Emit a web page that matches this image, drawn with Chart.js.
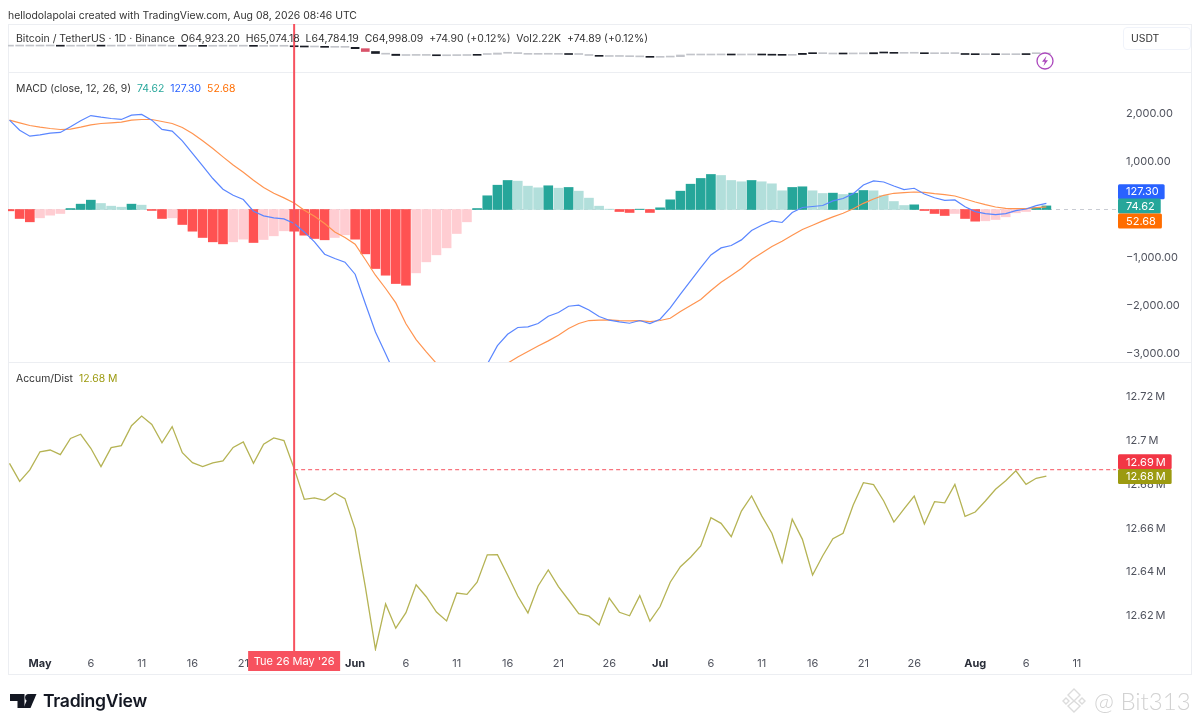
<!DOCTYPE html>
<html>
<head>
<meta charset="utf-8">
<title>BTC MACD Accum/Dist</title>
<script src="https://cdn.jsdelivr.net/npm/chart.js@4"></script>
<style>
  html, body { margin: 0; padding: 0; background: #fff; overflow: hidden; }
  body { width: 1200px; height: 727px; position: relative; font-family: Inter, sans-serif; color: #131722; }
  canvas { position: absolute; left: 0; top: 0; }
  .txt { position: absolute; font-size: 10.4px; line-height: 14px; white-space: pre; }
  .txt span { margin-left: 6px; }
</style>
</head>
<body>
<canvas id="myChart" width="1200" height="727"></canvas>

<div class="txt" style="left:8px;top:9px;color:#333">hellodolapolai created with TradingView.com, Aug 08, 2026 08:46 UTC</div>
<div class="txt" style="left:16px;top:32px;color:#333;font-size:10.48px">Bitcoin / TetherUS · 1D · Binance  O64,923.20  H65,074.18  L64,784.19  C64,998.09  +74.90 (+0.12%)  Vol2.22K  +74.89 (+0.12%)</div>
<div style="position:absolute;left:1123px;top:27px;width:66px;height:21px;border:1px solid #f0f3fa;border-radius:4px"></div>
<div class="txt" style="left:1131px;top:32px;color:#333">USDT</div>
<div class="txt" style="left:16px;top:82px;color:#333">MACD (close, 12, 26, 9)<span style="color:#26a69a">74.62</span><span style="color:#2962ff">127.30</span><span style="color:#ff6d00">52.68</span></div>
<div class="txt" style="left:16px;top:372px;color:#333">Accum/Dist<span style="color:#9c9a10">12.68 M</span></div>

<svg style="position:absolute;left:1035px;top:51px" width="20" height="20" viewBox="0 0 20 20">
  <circle cx="10" cy="10" r="8" fill="#fff" stroke="#ab47bc" stroke-width="1.3"/>
  <path d="M11.5 5 L7 10.8 H9.8 L8.5 15 L13 9.2 H10.2 Z" fill="#ab47bc"/>
</svg>

<svg style="position:absolute;left:10px;top:694px" width="27" height="14" viewBox="0 0 27 14">
  <path d="M0 0 H14.5 V14 H7.5 V7 H0 Z" fill="#131722"/>
  <circle cx="18.6" cy="3.5" r="3.5" fill="#131722"/>
  <path d="M26.5 0 L20.5 14 H13.5 L19.5 0 Z" fill="#131722"/>
</svg>
<div style="position:absolute;left:43px;top:689px;font-size:17.6px;line-height:24px;font-weight:600;letter-spacing:-0.3px;color:#131722">TradingView</div>

<svg style="position:absolute;left:1060px;top:687px" width="28" height="28" viewBox="0 0 28 28" fill="none" stroke="#dcdcdc" stroke-width="1.4">
  <path d="M14 2 L20 8 L14 14 L8 8 Z"/>
  <path d="M6 11 L9 14 L6 17 L3 14 Z"/>
  <path d="M22 11 L25 14 L22 17 L19 14 Z"/>
  <path d="M8 19 L14 25 L20 19 L14 14 Z"/>
</svg>
<div style="position:absolute;left:1094px;top:686px;font-family:Lato,sans-serif;font-size:24px;line-height:30px;font-weight:300;color:#d2d2d2">@ Bit313</div>

<script>
// days counted from May 1, first bar is Apr 28, last is Aug 8
const days = Array.from({ length: 103 }, (_, i) => i - 3);

const tickDays = [0, 5, 10, 15, 20, 25, 31, 36, 41, 46, 51, 56, 61, 66, 71, 76, 81, 86, 92, 97, 102];
const tickLabels = ['May', '6', '11', '16', '21', '26', 'Jun', '6', '11', '16', '21', '26', 'Jul', '6', '11', '16', '21', '26', 'Aug', '6', '11'];
const monthLabels = ['May', 'Jun', 'Jul', 'Aug'];

const macdTicks = [2000, 1000, -1000, -2000, -3000];
const adTicks = [12.72, 12.7, 12.68, 12.66, 12.64, 12.62];

const candleFirstOpen = 76800;
const candleCloses = [
  76900, 77000, 76900,
  77100, 77000, 76700, 76800, 76900, 77000, 76800, 76900, 77000, 77100,
  77000, 77100, 77000, 76700, 76800, 76500, 76600, 76700, 76800, 76700,
  76800, 76500, 76600, 76700, 76600, 75900, 75500, 75600, 75000, 75200,
  75000, 73000, 68750, 65750, 64700, 62750, 63000, 62900, 62900, 62400,
  62600, 62750, 63000, 64250, 64500, 66500, 66100, 65600, 64500, 64600,
  64600, 64500, 64250, 64300, 62750, 61500, 61300, 61400, 61000, 60700,
  60000, 60400, 61000, 63500, 63600, 63500, 63600, 63700, 63500, 63600,
  63600, 63500, 63200, 63000, 64250, 66000, 65500, 65600, 65000, 65100,
  65200, 65300, 67000, 66500, 66000, 66100, 66200, 65450, 65500, 65600,
  65700, 64250, 64000, 64100, 63950, 64000, 64100, 65450, 65500, 64998.09
];
const darkCandleDays = [2, 6, 14, 16, 21, 25, 26, 28, 31, 33, 35, 39, 43, 52, 55, 60, 68, 71, 72, 73, 75, 76, 79, 82, 83, 84, 87, 91, 92, 94, 97];

const macdHist = [
  -28, -187, -256,
  -173, -118, -83, 20, 111, 194, 125, 69, 48, 111,
  90, -20, -187, -173, -312, -451, -582, -672, -714, -672,
  -617, -686, -624, -547, -443, -451, -534, -603, -630, -582,
  -526, -617, -922, -1227, -1366, -1539, -1574, -1317, -1088, -942,
  -797, -499, -256, 20, 285, 505, 603, 589, 485, 451,
  493, 443, 458, 381, 236, 69, 7, -42, -62, 7,
  -62, 35, 201, 381, 526, 645, 728, 707, 603, 576,
  603, 576, 534, 389, 458, 472, 389, 333, 340, 312,
  340, 395, 389, 291, 166, 83, 97, -21, -83, -125,
  -83, -187, -243, -235, -208, -152, -69, -42, 35, 74.62
];

const macdLine = [
  1857, 1649, 1524,
  1552, 1586, 1601, 1718, 1843, 1953, 1920, 1892, 1872, 1961,
  1975, 1857, 1664, 1628, 1427, 1164, 907, 644, 422, 297,
  208, -35, -133, -175, -195, -291, -466, -674, -929, -1019,
  -1096, -1345, -1954, -2545, -2997, -3460, -3950, -4022, -4049, -4140,
  -4200, -4000, -3800, -3560, -3215, -2830, -2593, -2453, -2440, -2371,
  -2218, -2142, -2011, -1989, -2088, -2225, -2301, -2337, -2364, -2308,
  -2370, -2281, -2046, -1761, -1484, -1206, -944, -798, -749, -632,
  -437, -326, -237, -270, -62, 42, 62, 83, 179, 229,
  330, 509, 593, 572, 489, 412, 441, 322, 245, 191,
  198, 58, -45, -87, -108, -87, -25, 10, 79, 127.30
];

const signalLine = [
  1857, 1800, 1746,
  1711, 1684, 1663, 1669, 1711, 1759, 1788, 1800, 1815, 1857,
  1871, 1871, 1829, 1788, 1705, 1580, 1427, 1268, 1094, 927,
  775, 609, 457, 339, 241, 137, -15, -139, -292, -466,
  -583, -721, -1040, -1366, -1642, -1942, -2376, -2705, -2961, -3200,
  -3400, -3500, -3550, -3580, -3500, -3335, -3196, -3064, -2952, -2836,
  -2731, -2613, -2475, -2370, -2308, -2301, -2295, -2308, -2316, -2308,
  -2329, -2308, -2260, -2121, -1996, -1871, -1684, -1511, -1372, -1227,
  -1040, -902, -769, -659, -534, -416, -326, -237, -154, -77,
  15, 128, 218, 295, 337, 350, 364, 357, 329, 308,
  281, 218, 156, 100, 52, 25, 17, 17, 37, 52.68
];

const accumDist = [
  12.6897, 12.6815, 12.6867,
  12.6950, 12.6958, 12.6937, 12.7011, 12.7030, 12.6966, 12.6882, 12.6969, 12.6978, 12.7069,
  12.7113, 12.7075, 12.6991, 12.7065, 12.6946, 12.6900, 12.6882, 12.6899, 12.6908, 12.6970,
  12.6995, 12.6897, 12.6985, 12.7013, 12.7001, 12.6874, 12.6733, 12.6739, 12.6728, 12.6762,
  12.6736, 12.6597, 12.6334, 12.6048, 12.6255, 12.6144, 12.6215, 12.6342, 12.6288, 12.6218,
  12.6177, 12.6305, 12.6299, 12.6354, 12.6479, 12.6480, 12.6387, 12.6291, 12.6214, 12.6337,
  12.6410, 12.6334, 12.6273, 12.6211, 12.6199, 12.6159, 12.6282, 12.6217, 12.6201, 12.6293,
  12.6176, 12.6243, 12.6354, 12.6425, 12.6468, 12.6520, 12.6649, 12.6623, 12.6562, 12.6679,
  12.6748, 12.6657, 12.6578, 12.6445, 12.6642, 12.6550, 12.6387, 12.6475, 12.6553, 12.6578,
  12.6707, 12.6809, 12.6800, 12.6725, 12.6629, 12.6689, 12.6748, 12.6620, 12.6722, 12.6717,
  12.6801, 12.6655, 12.6675, 12.6725, 12.6779, 12.6818, 12.6863, 12.6801, 12.6829, 12.6839
];

const crossDay = 25;
const crossLabel = "Tue 26 May '26";
const crossAd = 12.6868;

const macdTags = [
  { value: 127.30, text: '127.30', color: '#2962ff', shift: -11.7 },
  { value: 74.62, text: '74.62', color: '#26a69a', shift: 0 },
  { value: 52.68, text: '52.68', color: '#ff6d00', shift: 14 }
];
const adTags = [
  { value: 12.6868, text: '12.69\u2009M', color: '#f23645', shift: -8 },
  { value: 12.6839, text: '12.68\u2009M', color: '#9c9a10', shift: 0.5 }
];

const candleOpens = [candleFirstOpen, ...candleCloses.slice(0, -1)];
const candles = candleCloses.map((c, i) => [candleOpens[i], c]);

const FONT = 'Inter, sans-serif';
const AXIS_SIZE = 11;

function isMonthTick(ctx) {
  return !!ctx.tick && monthLabels.includes(ctx.tick.label);
}

function histColor(ctx) {
  const i = ctx.dataIndex;
  const v = macdHist[i];
  const prev = i > 0 ? macdHist[i - 1] : 0;
  if (v >= 0) return v >= prev ? '#26a69a' : '#b2dfdb';
  return v <= prev ? '#ff5252' : '#ffcdd2';
}

function candleColor(ctx) {
  const i = ctx.dataIndex;
  if (candleOpens[i] - candleCloses[i] >= 3000 && days[i] === 32) return '#d9536a';
  return darkCandleDays.includes(days[i]) ? '#1a1d26' : '#c2c4ca';
}

function drawTag(ctx, y, t, left) {
  ctx.font = AXIS_SIZE + 'px ' + FONT;
  const w = ctx.measureText(t.text).width + 14;
  ctx.fillStyle = t.color;
  ctx.beginPath();
  ctx.roundRect(left, y - 7.5, w, 15, 1.5);
  ctx.fill();
  ctx.fillStyle = '#fff';
  ctx.textAlign = 'left';
  ctx.textBaseline = 'middle';
  ctx.fillText(t.text, left + 8, y + 0.5);
}

const panesPlugin = {
  id: 'panes',
  beforeDatasetsDraw(chart) {
    const { ctx, chartArea, scales } = chart;
    const zero = scales.yMacd.getPixelForValue(0);
    ctx.save();
    ctx.strokeStyle = '#eceef2';
    ctx.lineWidth = 1;
    ctx.strokeRect(8.5, 24.5, 1183, 650);
    ctx.beginPath();
    ctx.moveTo(8, Math.round(scales.yPrice.bottom) + 0.5);
    ctx.lineTo(1192, Math.round(scales.yPrice.bottom) + 0.5);
    ctx.moveTo(8, Math.round(scales.yMacd.bottom) + 0.5);
    ctx.lineTo(1192, Math.round(scales.yMacd.bottom) + 0.5);
    ctx.stroke();
    ctx.strokeStyle = '#c9ccd3';
    ctx.setLineDash([4, 4]);
    ctx.beginPath();
    ctx.moveTo(chartArea.left, zero);
    ctx.lineTo(chartArea.right, zero);
    ctx.stroke();
    ctx.restore();
  },
  afterDraw(chart) {
    const { ctx, chartArea, scales } = chart;
    const cx = scales.x.getPixelForValue(crossDay);
    const cy = scales.yAd.getPixelForValue(crossAd);
    ctx.save();
    ctx.strokeStyle = '#f7525f';
    ctx.lineWidth = 2;
    ctx.beginPath();
    ctx.moveTo(cx, chartArea.top);
    ctx.lineTo(cx, chartArea.bottom);
    ctx.stroke();
    ctx.lineWidth = 1;
    ctx.setLineDash([4, 3]);
    ctx.beginPath();
    ctx.moveTo(cx, cy);
    ctx.lineTo(chartArea.right, cy);
    ctx.stroke();
    ctx.setLineDash([]);

    macdTags.forEach(t => drawTag(ctx, scales.yMacd.getPixelForValue(t.value) + t.shift, t, chartArea.right + 2));
    adTags.forEach(t => drawTag(ctx, scales.yAd.getPixelForValue(t.value) + t.shift, t, chartArea.right + 2));

    ctx.fillStyle = '#f7525f';
    ctx.fillRect(cx - 46, chartArea.bottom, 92, 20);
    ctx.fillStyle = '#fff';
    ctx.font = AXIS_SIZE + 'px ' + FONT;
    ctx.textAlign = 'center';
    ctx.textBaseline = 'middle';
    ctx.fillText(crossLabel, cx, chartArea.bottom + 11);
    ctx.restore();
  }
};

function fixWidth(scale) { scale.width = 76; }

const yTicks = {
  color: '#50535e',
  padding: 10,
  autoSkip: false,
  font: { family: FONT, size: AXIS_SIZE }
};

new Chart(document.getElementById('myChart').getContext('2d'), {
  type: 'bar',
  plugins: [panesPlugin],
  data: {
    labels: days,
    datasets: [
      {
        type: 'bar',
        data: candles,
        yAxisID: 'yPrice',
        backgroundColor: candleColor,
        barThickness: 8,
        minBarLength: 1,
        grouped: false,
        clip: 0
      },
      {
        type: 'line',
        data: macdLine,
        yAxisID: 'yMacd',
        borderColor: '#5a86ff',
        borderWidth: 1.2,
        pointRadius: 0,
        tension: 0,
        order: 1,
        clip: 0
      },
      {
        type: 'line',
        data: signalLine,
        yAxisID: 'yMacd',
        borderColor: '#ff9450',
        borderWidth: 1.2,
        pointRadius: 0,
        tension: 0,
        order: 1,
        clip: 0
      },
      {
        type: 'bar',
        data: macdHist,
        yAxisID: 'yMacd',
        backgroundColor: histColor,
        barThickness: 9,
        grouped: false,
        order: 2,
        clip: 0
      },
      {
        type: 'line',
        data: accumDist,
        yAxisID: 'yAd',
        borderColor: '#b5b354',
        borderWidth: 1.3,
        pointRadius: 0,
        tension: 0,
        clip: 0
      }
    ]
  },
  options: {
    responsive: false,
    animation: false,
    events: [],
    layout: { padding: { left: 8, top: 24, right: 8, bottom: 53 } },
    plugins: { legend: { display: false }, tooltip: { enabled: false } },
    scales: {
      x: {
        type: 'linear',
        offset: false,
        min: -3.148,
        max: 105.85,
        grid: { display: false, drawTicks: false },
        border: { display: false },
        afterBuildTicks(scale) { scale.ticks = tickDays.map(v => ({ value: v })); },
        afterFit(scale) { scale.height = 23; },
        ticks: {
          autoSkip: false,
          maxRotation: 0,
          padding: 6,
          callback: v => tickLabels[tickDays.indexOf(v)],
          color: ctx => isMonthTick(ctx) ? '#2a2e39' : '#50535e',
          font: ctx => ({
            family: FONT,
            size: AXIS_SIZE,
            weight: isMonthTick(ctx) ? '700' : '400'
          })
        }
      },
      yPrice: {
        axis: 'y',
        position: 'right',
        stack: 'panes',
        stackWeight: 48,
        min: 37998,
        max: 109998,
        grid: { display: false },
        border: { display: false },
        ticks: { display: false },
        afterFit: fixWidth
      },
      yMacd: {
        axis: 'y',
        position: 'right',
        stack: 'panes',
        stackWeight: 290,
        min: -3170,
        max: 2858,
        grid: { display: false, drawTicks: false },
        border: { display: false },
        afterBuildTicks(scale) { scale.ticks = macdTicks.map(v => ({ value: v })); },
        afterFit: fixWidth,
        ticks: {
          ...yTicks,
          callback: v => (v < 0 ? '\u2212' : '') + Math.abs(v).toLocaleString('en-US', { minimumFractionDigits: 2 })
        }
      },
      yAd: {
        axis: 'y',
        position: 'right',
        stack: 'panes',
        stackWeight: 289,
        min: 12.604,
        max: 12.736,
        grid: { display: false, drawTicks: false },
        border: { display: false },
        afterBuildTicks(scale) { scale.ticks = adTicks.map(v => ({ value: v })); },
        afterFit: fixWidth,
        ticks: {
          ...yTicks,
          callback: v => parseFloat(v.toFixed(2)) + '\u2009M'
        }
      }
    }
  }
});
</script>
</body>
</html>
